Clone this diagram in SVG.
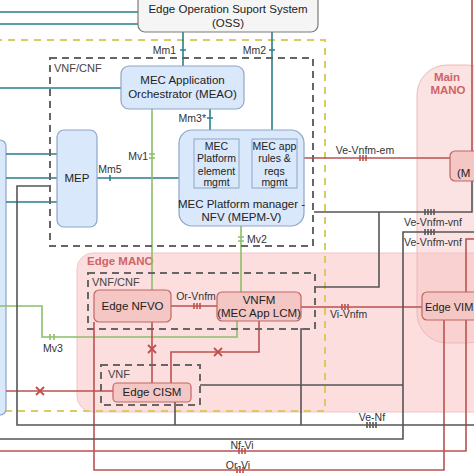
<svg xmlns="http://www.w3.org/2000/svg" width="474" height="474" viewBox="0 0 474 474">
<style>
text{font-family:"Liberation Sans",Arial,sans-serif;fill:#222}
.t{font-size:11.5px;text-anchor:middle}
.l{font-size:10.5px;fill:#333}
.tl{stroke:#2a7f8f;stroke-width:1.6;fill:none}
.gr{stroke:#8cbf6a;stroke-width:1.6;fill:none}
.rd{stroke:#b9534f;stroke-width:1.6;fill:none}
.gy{stroke:#555;stroke-width:1.6;fill:none}
.dash{stroke:#666;stroke-width:2;stroke-dasharray:7,5;fill:none}
.blue{fill:#dae8fc;stroke:#8ea6c6;stroke-width:1.2}
.red{fill:#f4c6c4;stroke:#c06662;stroke-width:1.2}
.inner{fill:#dae8fc;stroke:#8ea6c6;stroke-width:1}
.mano{font-size:11.5px;font-weight:bold;fill:#d06464}
.x{stroke:#c0504d;stroke-width:1.8}
</style>
<rect width="474" height="474" fill="#fff"/>
<g id="edge-mano">
<rect x="77" y="253" width="420" height="159" rx="16" fill="#fcdede" stroke="#f2c4c4" stroke-width="1"/>
<text class="mano" x="87" y="265">Edge MANO</text>
</g>
<g id="main-mano">
<rect x="417" y="65" width="80" height="278" rx="30" fill="#f6c0c0" fill-opacity="0.45" stroke="#f0b8b8" stroke-width="1"/>
<text class="mano" x="447" y="81" text-anchor="middle">Main</text>
<text class="mano" x="448" y="94" text-anchor="middle">MANO</text>
</g>
<g id="yellow-boundary">
<rect x="-5" y="40" width="330" height="371" fill="none" stroke="#d8cb62" stroke-width="2" stroke-dasharray="7,6"/>
</g>
<g id="left-box">
<rect x="-12" y="140" width="18" height="275" rx="6" class="blue"/>
</g>
<g id="connectors">
<path class="tl" d="M0 12H138M0 24H138M0 88H121M183 32V66M272 32V130M210 109V130M6 154H57M6 178H57M6 202H57M97 178H180"/>
<path class="tl" d="M180 50H186M269 50H275M207 118H213M110 175V181"/>
<path class="gr" d="M152 109V290M241 226V292M0 306H42V337H237V321"/>
<path class="gr" d="M149 154H155M149 158H155M238 237H244M238 241H244M50 334V340M54 334V340"/>
<path class="rd" d="M304 158H450M171 306H217M301 307H422M472 0V151M152 322V383M259 321V352H171V383M6 391H113M94 322V470H444V320M0 451H466V239H474"/>
<path class="rd" d="M360 155V161M363 155V161M366 155V161M194 303V309M197 303V309M200 303V309M342 304V310M345 304V310M348 304V310M239 448V454M242 448V454M245 448V454M237 467V473M240 467V473M243 467V473"/>
<path class="gy" d="M50 186H17V425H474M175 402V425M308 329H301V425M472 181V212H314M379 212V287H315M200 385H403M0 439H403V232H474"/>
<path class="gy" d="M425 209V215M428 209V215M431 209V215M434 209V215M425 229V235M428 229V235M431 229V235M434 229V235M367 422V428M370 422V428M373 422V428M376 422V428"/>
<path class="x" d="M148 345L156 353M156 345L148 353M214 348L222 356M222 348L214 356M36 387L44 395M44 387L36 395"/>
</g>
<g id="vnf-cnf-upper">
<rect x="50" y="58" width="263" height="188" class="dash"/>
<text class="l" x="54" y="72" style="font-size:11px;fill:#444">VNF/CNF</text>
</g>
<g id="vnf-cnf-lower">
<rect x="88" y="273" width="227" height="56" class="dash"/>
<text class="l" x="92" y="286" style="font-size:11px;fill:#444">VNF/CNF</text>
</g>
<g id="vnf-cism">
<rect x="101" y="365" width="99" height="40" class="dash"/>
<text class="l" x="108" y="378" style="font-size:11px;fill:#444">VNF</text>
</g>
<g id="oss">
<rect x="138" y="-6" width="180" height="38" rx="7" fill="#f5f5f5" stroke="#7a7a7a" stroke-width="1.2"/>
<text class="t" x="228" y="13">Edge Operation Suport System</text>
<text class="t" x="228" y="27">(OSS)</text>
</g>
<g id="meao">
<rect x="121" y="66" width="123" height="43" rx="8" class="blue"/>
<text class="t" x="182.5" y="84">MEC Application</text>
<text class="t" x="182.5" y="98">Orchestrator (MEAO)</text>
</g>
<g id="mep">
<rect x="57" y="130" width="40" height="97" rx="7" class="blue"/>
<text class="t" x="77" y="182">MEP</text>
</g>
<g id="mepm-v">
<rect x="179" y="130" width="125" height="96" rx="13" class="blue"/>
<rect x="194" y="139" width="45" height="49" class="inner"/>
<rect x="252" y="139" width="45" height="49" class="inner"/>
<text class="t" x="216.5" y="150" style="font-size:10.5px">MEC</text>
<text class="t" x="216.5" y="162" style="font-size:10.5px">Platform</text>
<text class="t" x="216.5" y="175" style="font-size:10.5px">element</text>
<text class="t" x="216.5" y="186" style="font-size:10.5px">mgmt</text>
<text class="t" x="274.5" y="150" style="font-size:10.5px">MEC app</text>
<text class="t" x="274.5" y="162" style="font-size:10.5px">rules &amp;</text>
<text class="t" x="274.5" y="175" style="font-size:10.5px">reqs</text>
<text class="t" x="274.5" y="186" style="font-size:10.5px">mgmt</text>
<text class="t" x="241.5" y="208">MEC Platform manager -</text>
<text class="t" x="241.5" y="221">NFV (MEPM-V)</text>
</g>
<g id="main-nfvo">
<rect x="450" y="151" width="40" height="30" rx="5" class="red"/>
<text class="t" x="457" y="177" style="text-anchor:start">(M</text>
</g>
<g id="edge-nfvo">
<rect x="94" y="290" width="77" height="32" rx="5" class="red"/>
<text class="t" x="132.5" y="310">Edge NFVO</text>
</g>
<g id="vnfm">
<rect x="217" y="292" width="84" height="29" rx="5" class="red"/>
<text class="t" x="259" y="304">VNFM</text>
<text class="t" x="259" y="317">(MEC App LCM)</text>
</g>
<g id="edge-vim">
<rect x="422" y="292" width="70" height="28" rx="5" class="red"/>
<text class="t" x="425" y="311" style="text-anchor:start;font-size:11px">Edge VIM</text>
</g>
<g id="edge-cism">
<rect x="113" y="383" width="78" height="19" rx="4" class="red"/>
<text class="t" x="152" y="396">Edge CISM</text>
</g>
<g id="labels">
<text class="l" x="176" y="54" text-anchor="end">Mm1</text>
<text class="l" x="266" y="54" text-anchor="end">Mm2</text>
<text class="l" x="206" y="122" text-anchor="end">Mm3*</text>
<text class="l" x="148" y="160" text-anchor="end">Mv1</text>
<text class="l" x="110" y="173" text-anchor="middle">Mm5</text>
<text class="l" x="247" y="243">Mv2</text>
<text class="l" x="53" y="352" text-anchor="middle">Mv3</text>
<text class="l" x="196" y="300" text-anchor="middle">Or-Vnfm</text>
<text class="l" x="330" y="318">Vi-Vnfm</text>
<text class="l" x="365" y="154" text-anchor="middle">Ve-Vnfm-em</text>
<text class="l" x="433" y="226" text-anchor="middle">Ve-Vnfm-vnf</text>
<text class="l" x="433" y="246" text-anchor="middle">Ve-Vnfm-vnf</text>
<text class="l" x="372" y="421" text-anchor="middle">Ve-Nf</text>
<text class="l" x="242" y="449" text-anchor="middle">Nf-Vi</text>
<text class="l" x="238" y="469" text-anchor="middle">Or-Vi</text>
</g>
</svg>
